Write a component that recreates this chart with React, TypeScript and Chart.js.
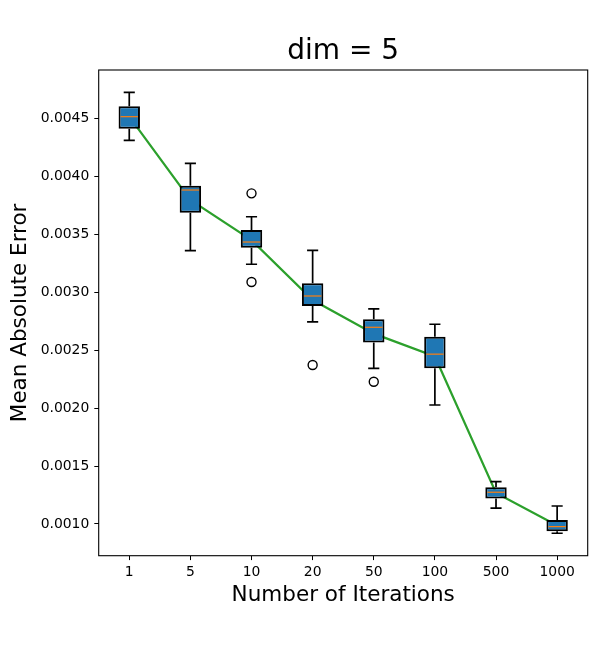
import React, { useRef, useEffect } from 'react';
import Chart from 'chart.js/auto';

// box statistics per iteration count
const iterations = ['1', '5', '10', '20', '50', '100', '500', '1000'];
const whiskerLow = [0.004312, 0.003359, 0.003242, 0.002744, 0.002344, 0.002027, 0.001136, 0.00092];
const q1 = [0.004412, 0.003687, 0.003385, 0.002882, 0.002567, 0.002344, 0.00122, 0.000937];
const median = [0.004516, 0.003883, 0.003434, 0.002968, 0.002698, 0.002466, 0.001274, 0.000977];
const q3 = [0.004605, 0.00392, 0.003538, 0.003078, 0.002767, 0.002617, 0.001317, 0.001035];
const whiskerHigh = [0.004726, 0.004113, 0.003652, 0.003362, 0.002856, 0.002724, 0.001365, 0.001155];
const means = [0.004517, 0.003797, 0.00345, 0.002933, 0.002643, 0.002446, 0.001268, 0.000986];
const outlierLabels = ['10', '10', '20', '50'];
const outlierValues = [0.003854, 0.003089, 0.002372, 0.002228];
const yMin = 0.000726;
const yMax = 0.004919;

const boxExtras = {
    id: 'boxExtras',
    afterDatasetsDraw(chart: any) {
        const { ctx } = chart;
        const x = chart.scales.x;
        const y = chart.scales.y;
        const bandWidth = x.width / iterations.length;
        const boxHalf = bandWidth * 0.175;
        const capHalf = boxHalf * 0.52;
        ctx.save();
        iterations.forEach((_, i) => {
            const cx = x.getPixelForValue(i);
            // whiskers
            ctx.strokeStyle = '#000';
            ctx.lineWidth = 1.7;
            ctx.beginPath();
            ctx.moveTo(cx, y.getPixelForValue(q3[i]));
            ctx.lineTo(cx, y.getPixelForValue(whiskerHigh[i]));
            ctx.moveTo(cx, y.getPixelForValue(q1[i]));
            ctx.lineTo(cx, y.getPixelForValue(whiskerLow[i]));
            // caps
            const hi = y.getPixelForValue(whiskerHigh[i]);
            const lo = y.getPixelForValue(whiskerLow[i]);
            ctx.moveTo(cx - capHalf, hi);
            ctx.lineTo(cx + capHalf, hi);
            ctx.moveTo(cx - capHalf, lo);
            ctx.lineTo(cx + capHalf, lo);
            ctx.stroke();
            // median
            const m = y.getPixelForValue(median[i]);
            ctx.strokeStyle = '#ff7f0e';
            ctx.lineWidth = 1.2;
            ctx.beginPath();
            ctx.moveTo(cx - boxHalf + 2, m);
            ctx.lineTo(cx + boxHalf - 2, m);
            ctx.stroke();
        });
        ctx.restore();
    },
    afterDraw(chart: any) {
        const { ctx, chartArea } = chart;
        ctx.save();
        ctx.strokeStyle = '#000';
        ctx.lineWidth = 1.1;
        ctx.strokeRect(chartArea.left, chartArea.top, chartArea.right - chartArea.left, chartArea.bottom - chartArea.top);
        ctx.restore();
    },
};

const App: React.FC = () => {
    const chartRef = useRef<HTMLCanvasElement | null>(null);
    const chartInstanceRef = useRef<Chart | null>(null);

    useEffect(() => {
        document.body.style.margin = '0';
        if (!chartRef.current) return;
        const ctx = chartRef.current.getContext('2d');
        if (!ctx) return;

        Chart.defaults.font.family = "'DejaVu Sans', sans-serif";
        Chart.defaults.color = '#000';

        chartInstanceRef.current = new Chart(ctx, {
            type: 'bar',
            data: {
                labels: iterations,
                datasets: [
                    {
                        type: 'bar',
                        data: iterations.map((_, i) => [q1[i], q3[i]]) as any,
                        backgroundColor: '#1f77b4',
                        borderColor: '#000',
                        borderWidth: 2,
                        borderSkipped: false,
                        categoryPercentage: 1,
                        barPercentage: 0.35,
                        order: 1,
                    },
                    {
                        type: 'line',
                        data: outlierLabels.map((l, i) => ({ x: l, y: outlierValues[i] })) as any,
                        showLine: false,
                        pointStyle: 'circle',
                        pointRadius: 4.5,
                        pointBorderWidth: 1.4,
                        pointBorderColor: '#000',
                        pointBackgroundColor: 'rgba(0,0,0,0)',
                        order: 0,
                    },
                    {
                        type: 'line',
                        data: means,
                        borderColor: '#2ca02c',
                        borderWidth: 2.2,
                        pointRadius: 0,
                        fill: false,
                        order: 2,
                    },
                ],
            },
            options: {
                responsive: false,
                animation: false,
                layout: { padding: { left: 0, right: 10.3, top: 0, bottom: 0 } },
                plugins: {
                    legend: { display: false },
                    tooltip: { enabled: false },
                    title: {
                        display: true,
                        text: 'dim = 5',
                        fullSize: false,
                        font: { size: 28, weight: 'normal' },
                        color: '#000',
                        padding: { top: 35.2, bottom: 1.2 },
                    },
                },
                scales: {
                    x: {
                        afterFit: (scale: any) => { scale.height = 90.3; },
                        grid: { display: true, drawOnChartArea: false, offset: false, tickLength: 4.4, tickColor: '#000', tickWidth: 1 },
                        border: { display: false },
                        ticks: { font: { size: 13.9 }, padding: 3.5, color: '#000' },
                        title: {
                            display: true,
                            text: 'Number of Iterations',
                            font: { size: 21.5 },
                            color: '#000',
                            padding: { top: 0, bottom: 37.8 },
                        },
                    },
                    y: {
                        min: yMin,
                        max: yMax,
                        afterFit: (scale: any) => { scale.width = 98.7; },
                        grid: { display: true, drawOnChartArea: false, tickLength: 4.4, tickColor: '#000', tickWidth: 1 },
                        border: { display: false },
                        ticks: {
                            stepSize: 0.0005,
                            includeBounds: false,
                            font: { size: 13.9 },
                            padding: 5,
                            color: '#000',
                            callback: (v: any) => Number(v).toFixed(4),
                        },
                        title: {
                            display: true,
                            text: 'Mean Absolute Error',
                            font: { size: 21.5 },
                            color: '#000',
                            padding: { top: 8, bottom: 0 },
                        },
                    },
                },
            },
            plugins: [boxExtras],
        });

        return () => {
            if (chartInstanceRef.current) {
                chartInstanceRef.current.destroy();
            }
        };
    }, []);

    return (
        <div style={{ width: 598, height: 646 }}>
            <canvas ref={chartRef} width={598} height={646} />
        </div>
    );
};

export default App;
